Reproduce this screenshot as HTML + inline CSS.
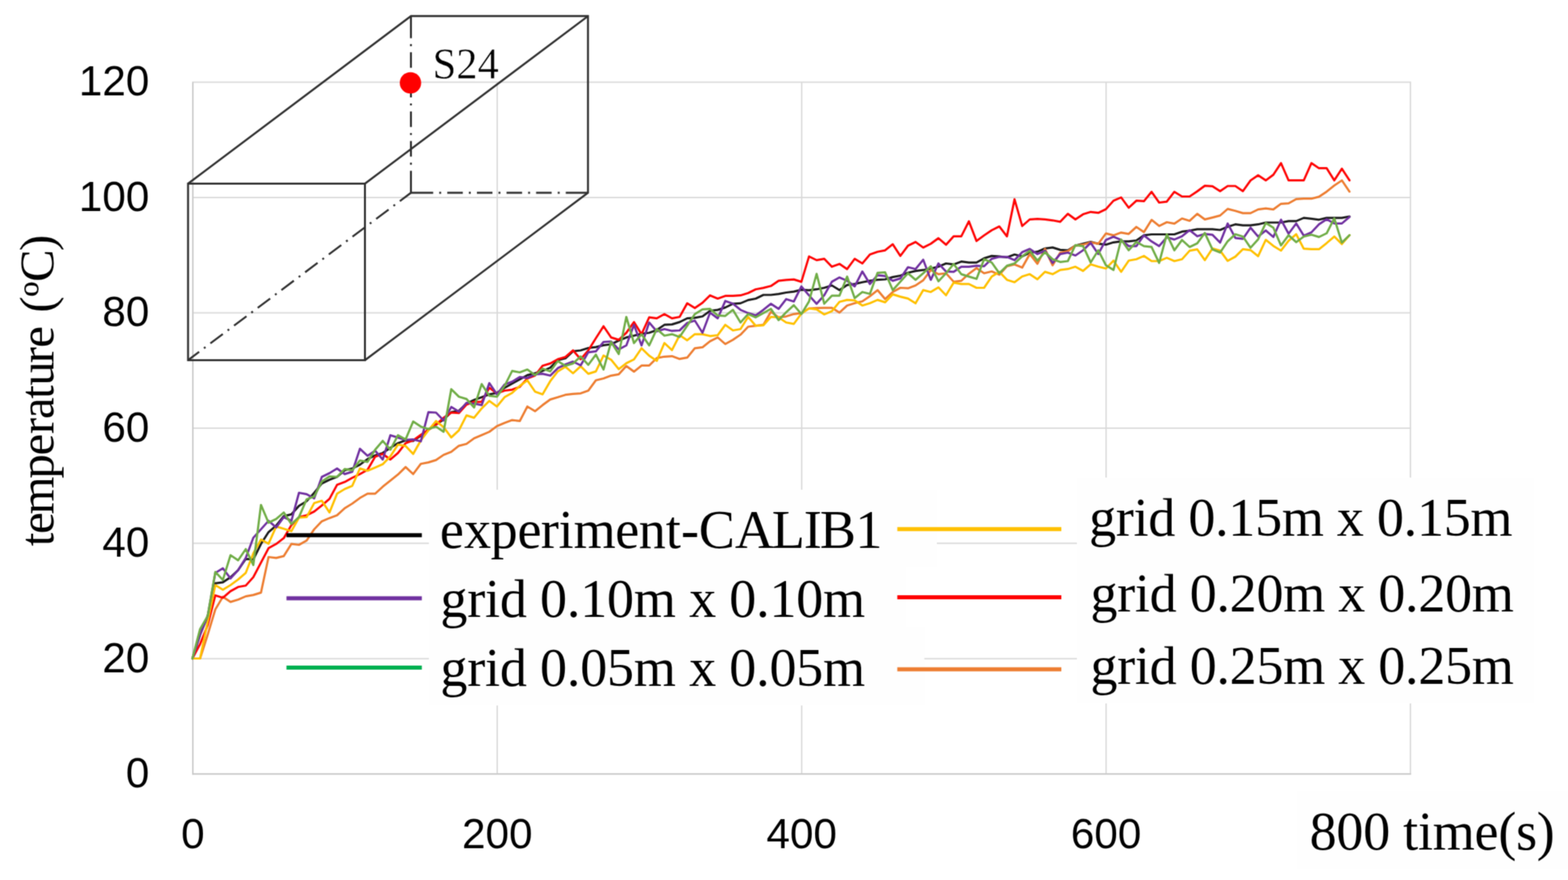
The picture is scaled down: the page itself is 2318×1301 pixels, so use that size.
<!DOCTYPE html>
<html lang="en"><head><meta charset="utf-8"><title>temperature vs time - S24</title>
<style>html,body{margin:0;padding:0;background:#fff;}body{width:2318px;height:1301px;overflow:hidden;}svg{display:block;}.sans{font-family:"Liberation Sans",sans-serif;fill:#000;}.serif{font-family:"Liberation Serif",serif;fill:#000;}.thin{stroke:#ffffff;stroke-width:0.6px;}</style>
</head><body>
<svg width="2318" height="1301" viewBox="0 0 2318 1301">
<defs><filter id="soft" x="0" y="0" width="2318" height="1301" filterUnits="userSpaceOnUse" color-interpolation-filters="sRGB"><feConvolveMatrix order="3" kernelMatrix="0.0400 0.1200 0.0400 0.1200 0.3600 0.1200 0.0400 0.1200 0.0400" divisor="1" edgeMode="duplicate" preserveAlpha="true"/></filter></defs>
<rect x="0" y="0" width="2318" height="1301" fill="#ffffff"/>
<g filter="url(#soft)">
<rect x="0" y="0" width="2318" height="1301" fill="#ffffff"/>
<g stroke="#d9d9d9" stroke-width="2" fill="none">
<line x1="284.1" y1="1144.2" x2="2086.1" y2="1144.2"/>
<line x1="284.1" y1="973.8" x2="2086.1" y2="973.8"/>
<line x1="284.1" y1="803.3" x2="2086.1" y2="803.3"/>
<line x1="284.1" y1="633.0" x2="2086.1" y2="633.0"/>
<line x1="284.1" y1="462.5" x2="2086.1" y2="462.5"/>
<line x1="284.1" y1="292.1" x2="2086.1" y2="292.1"/>
<line x1="284.1" y1="121.5" x2="2086.1" y2="121.5"/>
<line x1="285.1" y1="121.5" x2="285.1" y2="1144.2"/>
<line x1="735.1" y1="121.5" x2="735.1" y2="1144.2"/>
<line x1="1185.2" y1="121.5" x2="1185.2" y2="1144.2"/>
<line x1="1635.2" y1="121.5" x2="1635.2" y2="1144.2"/>
<line x1="2085.1" y1="121.5" x2="2085.1" y2="1144.2"/>
</g>
<g stroke="#c8c8c8" stroke-width="2" fill="none">
<line x1="285.1" y1="121.5" x2="285.1" y2="1145.2"/>
<line x1="284.1" y1="1144.2" x2="2086.1" y2="1144.2"/>
</g>
<g fill="#fefefe">
<rect x="634" y="724" width="751" height="114"/>
<rect x="634" y="838" width="706" height="89"/>
<rect x="634" y="927" width="732.5" height="116"/>
<rect x="1592" y="706" width="675" height="334"/>
<rect x="1917" y="1170" width="401" height="115"/>
</g>
<g fill="none" stroke-width="3.2" stroke-linejoin="round" stroke-linecap="round">
<polyline stroke="#1c1c1c" points="284.5,973.5 295.8,938.4 307.0,910.7 318.3,862.3 329.5,860.9 340.8,853.3 352.0,842.9 363.3,826.3 374.5,827.0 385.8,804.2 397.0,786.7 408.3,777.0 419.5,763.1 430.8,760.4 442.0,747.9 453.3,741.0 464.5,728.5 475.8,714.7 487.1,709.2 498.3,705.0 509.6,695.3 520.8,692.6 532.1,687.0 543.3,678.7 554.6,673.2 565.8,669.7 577.1,662.1 588.3,655.2 599.6,651.1 610.8,651.8 622.1,644.2 633.3,634.9 644.6,627.3 655.8,620.4 667.1,609.3 678.4,607.2 689.6,596.8 700.9,591.3 712.1,587.2 723.4,583.0 734.6,580.9 745.9,573.3 757.1,567.1 768.4,560.9 779.6,554.6 790.9,551.9 802.1,548.4 813.4,543.6 824.6,532.5 835.9,529.7 847.1,519.4 858.4,518.0 869.7,514.5 880.9,513.1 892.2,510.4 903.4,509.0 914.7,503.5 925.9,498.9 937.2,496.2 948.4,493.4 959.7,492.0 970.9,487.9 982.2,480.2 993.4,479.6 1004.7,476.1 1015.9,470.6 1027.2,469.9 1038.5,467.8 1049.7,459.5 1061.0,458.1 1072.2,454.6 1083.5,449.1 1094.7,448.4 1106.0,443.6 1117.2,441.5 1128.5,436.0 1139.7,436.0 1151.0,434.6 1162.2,432.5 1173.5,431.1 1184.7,428.4 1196.0,429.1 1207.2,427.7 1218.5,425.5 1229.8,422.0 1241.0,428.9 1252.3,421.3 1263.5,419.9 1274.8,417.2 1286.0,415.1 1297.3,413.7 1308.5,413.0 1319.8,409.6 1331.0,407.5 1342.3,403.3 1353.5,400.6 1364.8,399.2 1376.0,397.1 1387.3,394.3 1398.5,389.5 1409.8,390.9 1421.1,386.7 1432.3,388.1 1443.6,388.1 1454.8,381.9 1466.1,378.4 1477.3,379.1 1488.6,380.5 1499.8,376.3 1511.1,379.0 1522.3,373.5 1533.6,372.1 1544.8,367.3 1556.1,365.9 1567.3,369.4 1578.6,370.0 1589.8,363.1 1601.1,360.4 1612.4,357.6 1623.6,360.4 1634.9,361.7 1646.1,358.3 1657.4,356.9 1668.6,356.9 1679.9,355.5 1691.1,347.9 1702.4,346.5 1713.6,346.5 1724.9,346.5 1736.1,346.5 1747.4,342.4 1758.6,341.0 1769.9,338.9 1781.1,338.9 1792.4,338.9 1803.7,340.0 1814.9,335.2 1826.2,331.7 1837.4,333.1 1848.7,333.1 1859.9,331.7 1871.2,329.0 1882.4,329.0 1893.7,329.0 1904.9,326.9 1916.2,326.9 1927.4,322.1 1938.7,323.4 1949.9,324.8 1961.2,322.1 1972.5,322.1 1983.7,322.1 1995.0,320.0"/>
<polyline stroke="#ED7D31" points="284.5,973.5 295.8,973.5 307.0,938.4 318.3,901.0 329.5,882.3 340.8,889.9 352.0,886.5 363.3,881.6 374.5,879.6 385.8,876.1 397.0,823.5 408.3,824.9 419.5,822.1 430.8,804.2 442.0,805.5 453.3,799.1 464.5,782.5 475.8,770.7 487.1,765.9 498.3,761.7 509.6,751.4 520.8,744.5 532.1,736.2 543.3,729.9 554.6,729.9 565.8,719.6 577.1,710.6 588.3,701.6 599.6,690.5 610.8,700.9 622.1,685.7 633.3,683.6 644.6,680.1 655.8,672.5 667.1,668.1 678.4,659.1 689.6,656.3 700.9,648.0 712.1,643.2 723.4,638.4 734.6,630.0 745.9,625.2 757.1,621.1 768.4,622.4 779.6,601.0 790.9,607.9 802.1,598.9 813.4,590.6 824.6,587.2 835.9,583.7 847.1,582.3 858.4,581.6 869.7,577.5 880.9,562.3 892.2,559.5 903.4,555.3 914.7,553.3 925.9,541.1 937.2,549.4 948.4,540.4 959.7,540.4 970.9,529.4 982.2,527.3 993.4,526.6 1004.7,530.7 1015.9,528.7 1027.2,514.8 1038.5,513.4 1049.7,504.5 1061.0,498.9 1072.2,508.6 1083.5,502.4 1094.7,494.8 1106.0,483.0 1117.2,481.6 1128.5,480.2 1139.7,460.9 1151.0,469.2 1162.2,467.8 1173.5,464.3 1184.7,462.9 1196.0,456.0 1207.2,455.3 1218.5,455.2 1229.8,455.2 1241.0,462.1 1252.3,451.7 1263.5,448.3 1274.8,445.5 1286.0,437.9 1297.3,428.9 1308.5,442.1 1319.8,431.7 1331.0,425.5 1342.3,426.2 1353.5,422.0 1364.8,414.4 1376.0,399.2 1387.3,405.4 1398.5,404.0 1409.8,416.5 1421.1,415.1 1432.3,404.7 1443.6,396.4 1454.8,404.0 1466.1,401.3 1477.3,406.1 1488.6,393.6 1499.8,390.9 1511.1,395.6 1522.3,375.6 1533.6,390.1 1544.8,368.0 1556.1,392.2 1567.3,373.5 1578.6,371.4 1589.8,363.1 1601.1,361.7 1612.4,358.3 1623.6,360.4 1634.9,345.1 1646.1,347.9 1657.4,343.8 1668.6,345.8 1679.9,335.5 1691.1,343.1 1702.4,325.1 1713.6,334.1 1724.9,328.5 1736.1,330.6 1747.4,323.0 1758.6,326.5 1769.9,316.1 1781.1,324.4 1792.4,321.6 1803.7,318.6 1814.9,308.9 1826.2,311.7 1837.4,315.1 1848.7,315.1 1859.9,309.6 1871.2,308.2 1882.4,309.6 1893.7,301.3 1904.9,300.6 1916.2,294.4 1927.4,293.7 1938.7,293.7 1949.9,290.9 1961.2,283.3 1972.5,274.3 1983.7,266.7 1995.0,283.3"/>
<polyline stroke="#FF0505" points="284.5,973.5 295.8,952.2 307.0,924.5 318.3,880.2 329.5,883.7 340.8,874.0 352.0,867.8 363.3,865.7 374.5,853.3 385.8,831.8 397.0,810.4 408.3,804.2 419.5,795.6 430.8,776.3 442.0,764.5 453.3,761.7 464.5,756.2 475.8,747.2 487.1,737.5 498.3,716.8 509.6,712.6 520.8,706.4 532.1,700.9 543.3,694.6 554.6,675.3 565.8,671.1 577.1,679.4 588.3,669.7 599.6,655.2 610.8,651.1 622.1,642.8 633.3,635.6 644.6,628.0 655.8,617.6 667.1,610.0 678.4,610.7 689.6,598.2 700.9,594.1 712.1,594.1 723.4,573.3 734.6,581.6 745.9,577.5 757.1,576.1 768.4,571.9 779.6,559.5 790.9,555.3 802.1,540.8 813.4,537.4 824.6,531.1 835.9,527.7 847.1,518.0 858.4,531.1 869.7,518.0 880.9,500.0 892.2,482.3 903.4,498.9 914.7,502.4 925.9,492.0 937.2,476.1 948.4,494.1 959.7,469.2 970.9,470.6 982.2,464.3 993.4,470.6 1004.7,468.5 1015.9,448.4 1027.2,455.3 1038.5,447.7 1049.7,436.7 1061.0,441.5 1072.2,437.4 1083.5,437.4 1094.7,436.7 1106.0,433.2 1117.2,427.7 1128.5,425.6 1139.7,422.8 1151.0,415.2 1162.2,413.8 1173.5,413.1 1184.7,416.6 1196.0,379.1 1207.2,384.6 1218.5,382.6 1229.8,394.3 1241.0,390.2 1252.3,397.8 1263.5,382.6 1274.8,389.5 1286.0,376.3 1297.3,372.2 1308.5,370.1 1319.8,361.1 1331.0,378.4 1342.3,363.2 1353.5,357.7 1364.8,366.0 1376.0,360.4 1387.3,352.1 1398.5,361.8 1409.8,349.4 1421.1,349.4 1432.3,327.2 1443.6,356.3 1454.8,348.0 1466.1,340.4 1477.3,334.8 1488.6,349.4 1499.8,294.6 1511.1,334.1 1522.3,324.4 1533.6,323.7 1544.8,324.4 1556.1,325.8 1567.3,327.9 1578.6,316.1 1589.8,324.4 1601.1,316.8 1612.4,313.3 1623.6,314.7 1634.9,309.2 1646.1,296.7 1657.4,291.9 1668.6,307.1 1679.9,296.7 1691.1,297.4 1702.4,283.6 1713.6,299.5 1724.9,298.1 1736.1,283.6 1747.4,290.5 1758.6,290.5 1769.9,282.9 1781.1,274.6 1792.4,275.3 1803.7,282.6 1814.9,275.0 1826.2,275.0 1837.4,282.6 1848.7,266.7 1859.9,259.1 1871.2,266.7 1882.4,258.4 1893.7,241.1 1904.9,266.7 1916.2,266.7 1927.4,266.7 1938.7,241.1 1949.9,248.7 1961.2,248.7 1972.5,266.7 1983.7,249.4 1995.0,266.7"/>
<polyline stroke="#FFC000" points="284.5,973.5 295.8,973.5 307.0,919.0 318.3,865.0 329.5,871.9 340.8,865.0 352.0,856.7 363.3,847.0 374.5,818.0 385.8,797.7 397.0,803.9 408.3,778.4 419.5,781.8 430.8,785.3 442.0,765.2 453.3,764.5 464.5,743.8 475.8,740.3 487.1,757.6 498.3,729.9 509.6,723.0 520.8,718.2 532.1,692.6 543.3,696.0 554.6,691.2 565.8,686.3 577.1,674.6 588.3,657.3 599.6,659.4 610.8,671.1 622.1,651.1 633.3,636.3 644.6,622.4 655.8,631.4 667.1,646.7 678.4,636.3 689.6,614.1 700.9,617.6 712.1,603.8 723.4,592.7 734.6,601.0 745.9,587.2 757.1,580.9 768.4,570.6 779.6,562.3 790.9,578.9 802.1,583.0 813.4,563.6 824.6,549.1 835.9,542.2 847.1,551.9 858.4,541.5 869.7,552.6 880.9,549.1 892.2,525.6 903.4,531.8 914.7,545.7 925.9,537.0 937.2,531.4 948.4,514.8 959.7,525.9 970.9,533.5 982.2,507.2 993.4,517.6 1004.7,495.5 1015.9,503.1 1027.2,494.1 1038.5,494.1 1049.7,496.8 1061.0,495.5 1072.2,480.2 1083.5,488.5 1094.7,486.5 1106.0,468.5 1117.2,481.6 1128.5,480.9 1139.7,468.5 1151.0,469.2 1162.2,476.8 1173.5,478.9 1184.7,463.6 1196.0,456.0 1207.2,457.4 1218.5,464.9 1229.8,460.0 1241.0,446.2 1252.3,443.4 1263.5,444.1 1274.8,451.7 1286.0,448.3 1297.3,443.4 1308.5,446.9 1319.8,435.1 1331.0,438.6 1342.3,441.4 1353.5,448.3 1364.8,428.9 1376.0,431.7 1387.3,424.8 1398.5,436.5 1409.8,417.9 1421.1,419.9 1432.3,419.9 1443.6,425.5 1454.8,425.5 1466.1,408.9 1477.3,401.9 1488.6,413.7 1499.8,417.2 1511.1,408.8 1522.3,405.3 1533.6,412.9 1544.8,401.9 1556.1,405.3 1567.3,399.1 1578.6,397.7 1589.8,394.3 1601.1,400.5 1612.4,390.8 1623.6,394.3 1634.9,397.0 1646.1,385.3 1657.4,401.9 1668.6,385.3 1679.9,383.2 1691.1,378.4 1702.4,386.0 1713.6,386.0 1724.9,381.1 1736.1,386.0 1747.4,383.2 1758.6,370.7 1769.9,368.7 1781.1,384.6 1792.4,367.3 1803.7,370.5 1814.9,385.7 1826.2,379.5 1837.4,368.4 1848.7,369.8 1859.9,378.8 1871.2,354.6 1882.4,363.6 1893.7,370.5 1904.9,356.0 1916.2,346.3 1927.4,367.7 1938.7,368.4 1949.9,368.4 1961.2,359.4 1972.5,349.7 1983.7,360.8 1995.0,347.7"/>
<polyline stroke="#7030A0" points="284.5,973.5 295.8,938.4 307.0,910.7 318.3,847.0 329.5,840.1 340.8,855.3 352.0,842.9 363.3,824.9 374.5,795.0 385.8,782.5 397.0,770.0 408.3,779.7 419.5,764.5 430.8,770.0 442.0,728.5 453.3,730.6 464.5,736.8 475.8,705.0 487.1,699.5 498.3,692.6 509.6,700.9 520.8,697.4 532.1,663.5 543.3,673.9 554.6,666.3 565.8,679.4 577.1,643.5 588.3,646.9 599.6,650.4 610.8,649.7 622.1,652.5 633.3,609.3 644.6,610.0 655.8,621.7 667.1,601.7 678.4,608.6 689.6,595.5 700.9,596.8 712.1,598.9 723.4,566.4 734.6,583.0 745.9,568.5 757.1,564.3 768.4,557.4 779.6,558.8 790.9,553.3 802.1,552.6 813.4,555.3 824.6,544.3 835.9,538.7 847.1,534.6 858.4,540.1 869.7,520.8 880.9,519.4 892.2,505.5 903.4,504.8 914.7,516.6 925.9,510.7 937.2,480.2 948.4,510.7 959.7,476.8 970.9,489.9 982.2,486.5 993.4,489.2 1004.7,488.5 1015.9,477.5 1027.2,474.0 1038.5,492.0 1049.7,462.3 1061.0,470.6 1072.2,445.0 1083.5,449.1 1094.7,458.1 1106.0,462.9 1117.2,466.4 1128.5,458.1 1139.7,449.1 1151.0,456.7 1162.2,442.2 1173.5,445.7 1184.7,423.5 1196.0,436.7 1207.2,449.1 1218.5,436.5 1229.8,416.5 1241.0,410.2 1252.3,415.1 1263.5,423.4 1274.8,401.3 1286.0,419.9 1297.3,406.8 1308.5,408.2 1319.8,415.1 1331.0,411.6 1342.3,395.0 1353.5,397.8 1364.8,384.0 1376.0,413.7 1387.3,389.5 1398.5,401.3 1409.8,401.9 1421.1,394.3 1432.3,394.3 1443.6,392.9 1454.8,393.6 1466.1,382.6 1477.3,379.8 1488.6,379.8 1499.8,384.6 1511.1,372.8 1522.3,368.0 1533.6,375.6 1544.8,370.7 1556.1,388.7 1567.3,375.6 1578.6,373.5 1589.8,377.7 1601.1,370.0 1612.4,359.0 1623.6,375.6 1634.9,354.8 1646.1,350.0 1657.4,354.8 1668.6,363.8 1679.9,363.8 1691.1,347.9 1702.4,356.9 1713.6,363.8 1724.9,350.7 1736.1,354.1 1747.4,349.3 1758.6,340.3 1769.9,349.3 1781.1,345.8 1792.4,347.2 1803.7,358.7 1814.9,330.4 1826.2,351.8 1837.4,353.2 1848.7,336.6 1859.9,349.7 1871.2,340.7 1882.4,350.4 1893.7,324.8 1904.9,345.6 1916.2,330.4 1927.4,348.4 1938.7,343.5 1949.9,331.7 1961.2,324.1 1972.5,330.4 1983.7,330.4 1995.0,320.7"/>
<polyline stroke="#70AD47" points="284.5,973.5 295.8,930.0 307.0,910.7 318.3,845.7 329.5,857.4 340.8,820.8 352.0,828.4 363.3,811.8 374.5,835.3 385.8,746.5 397.0,772.8 408.3,767.3 419.5,757.6 430.8,774.9 442.0,764.5 453.3,738.2 464.5,734.1 475.8,711.9 487.1,704.3 498.3,705.0 509.6,693.3 520.8,695.3 532.1,680.8 543.3,682.9 554.6,664.9 565.8,651.8 577.1,664.9 588.3,643.5 599.6,649.7 610.8,623.1 622.1,630.7 633.3,634.2 644.6,630.7 655.8,638.4 667.1,575.4 678.4,586.5 689.6,589.9 700.9,602.4 712.1,567.8 723.4,585.1 734.6,586.5 745.9,570.6 757.1,548.4 768.4,550.5 779.6,546.3 790.9,554.6 802.1,545.0 813.4,549.1 824.6,533.9 835.9,540.8 847.1,537.4 858.4,527.0 869.7,539.4 880.9,524.2 892.2,546.3 903.4,505.5 914.7,523.5 925.9,468.5 937.2,507.2 948.4,494.1 959.7,510.7 970.9,486.5 982.2,496.2 993.4,494.1 1004.7,498.2 1015.9,481.6 1027.2,464.3 1038.5,457.4 1049.7,456.7 1061.0,466.4 1072.2,467.1 1083.5,458.1 1094.7,476.8 1106.0,464.3 1117.2,469.2 1128.5,462.9 1139.7,456.7 1151.0,473.3 1162.2,461.6 1173.5,451.2 1184.7,464.3 1196.0,445.7 1207.2,404.8 1218.5,449.0 1229.8,437.2 1241.0,437.2 1252.3,408.9 1263.5,440.7 1274.8,431.7 1286.0,434.5 1297.3,403.3 1308.5,402.6 1319.8,428.9 1331.0,416.5 1342.3,404.0 1353.5,413.7 1364.8,404.0 1376.0,393.6 1387.3,415.8 1398.5,404.0 1409.8,390.2 1421.1,405.4 1432.3,408.9 1443.6,412.3 1454.8,383.3 1466.1,388.1 1477.3,404.0 1488.6,392.9 1499.8,389.5 1511.1,379.0 1522.3,370.7 1533.6,385.3 1544.8,372.8 1556.1,383.2 1567.3,387.3 1578.6,386.0 1589.8,362.4 1601.1,363.8 1612.4,388.0 1623.6,370.0 1634.9,392.2 1646.1,399.1 1657.4,354.1 1668.6,370.0 1679.9,357.6 1691.1,363.8 1702.4,365.2 1713.6,388.7 1724.9,346.5 1736.1,370.0 1747.4,354.8 1758.6,365.2 1769.9,359.7 1781.1,344.5 1792.4,368.7 1803.7,373.3 1814.9,356.7 1826.2,346.3 1837.4,349.7 1848.7,366.3 1859.9,353.9 1871.2,329.7 1882.4,336.6 1893.7,362.9 1904.9,347.7 1916.2,358.0 1927.4,349.7 1938.7,347.0 1949.9,350.4 1961.2,344.9 1972.5,322.8 1983.7,358.7 1995.0,347.7"/>
</g>
<g stroke-width="6" fill="none">
<line x1="423.5" y1="791.3" x2="623.6" y2="791.3" stroke="#000000"/>
<line x1="423.5" y1="884.6" x2="623.6" y2="884.6" stroke="#7030A0"/>
<line x1="423.5" y1="987" x2="623.6" y2="987" stroke="#00B050"/>
<line x1="1326.5" y1="782.2" x2="1569" y2="782.2" stroke="#FFC000"/>
<line x1="1326.5" y1="883" x2="1569" y2="883" stroke="#FF0000"/>
<line x1="1326.5" y1="989.5" x2="1569" y2="989.5" stroke="#ED7D31"/>
</g>
<g class="serif" font-size="80">
<text x="650.3 686.0 725.2 765.0 799.6 825.8 847.9 909.6 944.3 984.2 1006.8 1033.0 1086.4 1141.0 1188.2 1212.1 1264.5" y="809.8">experiment-CALIB1</text>
<text x="651" y="911.7" textLength="628" lengthAdjust="spacing">grid 0.10m x 0.10m</text>
<text x="651" y="1013.5" textLength="628" lengthAdjust="spacing">grid 0.05m x 0.05m</text>
<text x="1610" y="791.5" textLength="626" lengthAdjust="spacing">grid 0.15m x 0.15m</text>
<text x="1612" y="904" textLength="626" lengthAdjust="spacing">grid 0.20m x 0.20m</text>
<text x="1612" y="1011" textLength="626" lengthAdjust="spacing">grid 0.25m x 0.25m</text>
<text x="1936" y="1256" textLength="362.5" lengthAdjust="spacing">800 time(s)</text>
</g>
<text class="serif" font-size="72" transform="translate(79.3,807.4) rotate(-90)" x="0.0 18.2 46.8 100.0 134.1 165.7 187.8 218.0 237.1 270.3 293.4 323.5 345.2 368.8 390.6 436.5" y="0 0 0 0 0 0 0 0 0 0 0 0 0 4.5 0 0">temperature (ºC)</text>
<g class="sans" font-size="62.5" text-anchor="end">
<text x="220.7" y="1164.0">0</text>
<text x="220.7" y="993.5">20</text>
<text x="220.7" y="823.1">40</text>
<text x="220.7" y="652.8">60</text>
<text x="220.7" y="482.3">80</text>
<text x="220.7" y="311.9">100</text>
<text x="220.7" y="141.3">120</text>
</g>
<g class="sans" font-size="62.5" text-anchor="middle">
<text x="285.1" y="1254">0</text>
<text x="735.1" y="1254">200</text>
<text x="1185.2" y="1254">400</text>
<text x="1635.2" y="1254">600</text>
</g>
<g stroke="#303030" stroke-width="2.9" fill="none" stroke-linejoin="miter">
<rect x="278" y="271.5" width="261.5" height="261"/>
<path d="M278,271.5 L607.5,23.8 L869.2,23.8 L869.2,285 L539.5,532.5"/>
<path d="M539.5,271.5 L869.2,23.8"/>
<path d="M607.5,23.8 L607.5,56.4 M607.5,65.3 L607.5,68.2 M607.5,77.2 L607.5,100.2 M607.5,109.1 L607.5,112.0 M607.5,121.0 L607.5,144.0 M607.5,153.0 L607.5,155.8 M607.5,164.8 L607.5,187.8 M607.5,196.8 L607.5,199.6 M607.5,208.6 L607.5,231.6 M607.5,240.6 L607.5,243.4 M607.5,252.4 L607.5,285.0"/>
<path d="M607.5,285.0 L640.4,285.0 M649.3,285.0 L652.2,285.0 M661.2,285.0 L684.2,285.0 M693.1,285.0 L696.0,285.0 M705.0,285.0 L728.0,285.0 M736.9,285.0 L739.8,285.0 M748.8,285.0 L771.8,285.0 M780.7,285.0 L783.6,285.0 M792.5,285.0 L815.5,285.0 M824.5,285.0 L827.4,285.0 M836.4,285.0 L869.2,285.0"/>
<path d="M278.0,532.5 L294.4,520.2 M301.5,514.8 L303.8,513.1 M311.0,507.7 L329.4,493.9 M336.5,488.5 L338.8,486.8 M346.0,481.4 L364.4,467.6 M371.5,462.2 L373.9,460.5 M381.0,455.1 L399.4,441.3 M406.6,435.9 L408.9,434.2 M416.0,428.8 L434.4,415.0 M441.6,409.6 L443.9,407.9 M451.1,402.5 L469.5,388.7 M476.6,383.3 L478.9,381.6 M486.1,376.2 L504.5,362.4 M511.6,357.0 L514.0,355.3 M521.1,349.9 L539.5,336.1 M546.7,330.7 L549.0,329.0 M556.1,323.6 L574.5,309.8 M581.7,304.4 L584.0,302.7 M591.1,297.3 L607.5,285.0"/>
</g>
<circle cx="606.8" cy="122.5" r="15.8" fill="#FF0000"/>
<text class="serif thin" font-size="66" x="639.5" y="116.2" textLength="98" lengthAdjust="spacingAndGlyphs">S24</text>
</g>
</svg>
</body></html>
